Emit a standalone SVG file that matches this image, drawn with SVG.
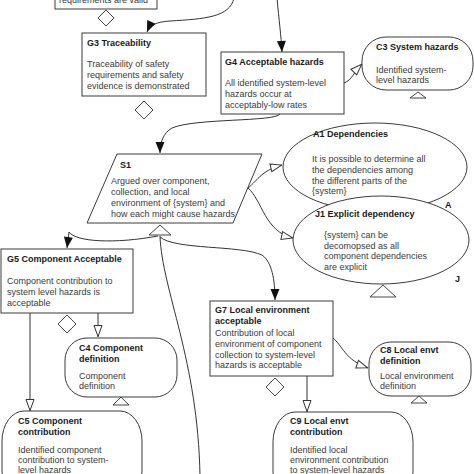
<svg xmlns="http://www.w3.org/2000/svg" width="474" height="474" viewBox="0 0 474 474">
<defs>
<style>
.box{fill:#fff;stroke:#3a3a3a;stroke-width:1}
.t{font-family:"Liberation Sans",Arial,sans-serif;font-size:9px;fill:#3a3a3a}
.b{font-weight:bold;fill:#1a1a1a}
.c{fill:none;stroke:#333;stroke-width:1}
.dia{fill:#fff;stroke:#444;stroke-width:1}
</style>
<marker id="sa" markerUnits="userSpaceOnUse" markerWidth="12" markerHeight="10" viewBox="0 -5 11 10" refX="11" refY="0" orient="auto">
<path d="M0,-4.5 L11,0 L0,4.5 z" fill="#111"/>
</marker>
<marker id="ha" markerUnits="userSpaceOnUse" markerWidth="13" markerHeight="10" viewBox="0 -5 12 10" refX="12" refY="0" orient="auto">
<path d="M0.5,-4 L11.5,0 L0.5,4 z" fill="#fff" stroke="#333" stroke-width="1"/>
</marker>
</defs>
<rect width="474" height="474" fill="#fff"/>

<g id="G2">
<rect class="box" x="55" y="-40" width="102" height="49"/>
<text class="t" x="59" y="3">requirements are valid</text>
<path class="dia" d="M106,10 L114,18 L106,26 L98,18 z"/>
</g>

<g id="G3">
<rect class="box" x="82" y="33" width="124" height="63"/>
<text class="t b" x="87" y="46">G3 Traceability</text>
<text class="t" x="87" y="66.5">Traceability of safety</text>
<text class="t" x="87" y="77.5">requirements and safety</text>
<text class="t" x="87" y="88.5">evidence is demonstrated</text>
<path class="dia" d="M144,101 L153,110 L144,119 L135,110 z"/>
</g>

<g id="G4">
<rect class="box" x="221" y="52" width="123" height="62"/>
<text class="t b" x="225" y="65">G4 Acceptable hazards</text>
<text class="t" x="225" y="86">All identified system-level</text>
<text class="t" x="225" y="97">hazards occur at</text>
<text class="t" x="225" y="108">acceptably-low rates</text>
</g>

<g id="C3">
<rect class="box" x="362" y="37" width="111" height="53" rx="24" ry="24"/>
<text class="t b" x="376" y="50">C3 System hazards</text>
<text class="t" x="376" y="73">Identified system-</text>
<text class="t" x="376" y="83">level hazards</text>
<path class="dia" d="M418,92 L426,98 L410,98 z"/>
</g>

<g id="S1">
<path class="box" d="M117,154 L262,154 L233,223 L87,223 z"/>
<text class="t b" x="120" y="168">S1</text>
<text class="t" x="111" y="184">Argued over component,</text>
<text class="t" x="111" y="195">collection, and local</text>
<text class="t" x="111" y="206">environment of {system} and</text>
<text class="t" x="111" y="217">how each might cause hazards</text>
<path class="dia" d="M160,225 L171,235 L149,235 z"/>
</g>

<g id="A1">
<ellipse class="box" cx="375" cy="167" rx="92" ry="44"/>
<text class="t b" x="313" y="137">A1 Dependencies</text>
<text class="t" x="312" y="162">It is possible to determine all</text>
<text class="t" x="312" y="173">the dependencies among</text>
<text class="t" x="312" y="183.5">the different parts of the</text>
<text class="t" x="312" y="194">{system}</text>
<text class="t b" x="445" y="208">A</text>
</g>

<g id="J1">
<ellipse class="box" cx="381" cy="240" rx="88" ry="44"/>
<text class="t b" x="315" y="217">J1 Explicit dependency</text>
<text class="t" x="324" y="238">{system} can be</text>
<text class="t" x="324" y="248.5">decomopsed as all</text>
<text class="t" x="324" y="259">component dependencies</text>
<text class="t" x="324" y="269.5">are explicit</text>
<text class="t b" x="455" y="282">J</text>
<path class="dia" d="M383,285 L396,297 L370,297 z"/>
</g>

<g id="G5">
<rect class="box" x="1" y="249" width="132" height="64"/>
<text class="t b" x="7" y="262">G5 Component Acceptable</text>
<text class="t" x="7" y="284">Component contribution to</text>
<text class="t" x="7" y="295">system level hazards is</text>
<text class="t" x="7" y="306">acceptable</text>
<path class="dia" d="M67,315 L76,324 L67,333 L58,324 z"/>
</g>

<g id="C4">
<rect class="box" x="65" y="338" width="112" height="59" rx="22" ry="22"/>
<text class="t b" x="79" y="351">C4 Component</text>
<text class="t b" x="79" y="362">definition</text>
<text class="t" x="79" y="379">Component</text>
<text class="t" x="79" y="389">definition</text>
<path class="dia" d="M121,397 L129,405 L113,405 z"/>
</g>

<g id="C5">
<rect class="box" x="2" y="411" width="140" height="90" rx="22" ry="30"/>
<text class="t b" x="18" y="424">C5 Component</text>
<text class="t b" x="18" y="434.5">contribution</text>
<text class="t" x="18" y="453">Identified component</text>
<text class="t" x="18" y="463">contribution to system-</text>
<text class="t" x="18" y="473">level hazards</text>
</g>

<g id="G7">
<rect class="box" x="210" y="301" width="123" height="75"/>
<text class="t b" x="215" y="313">G7 Local environment</text>
<text class="t b" x="215" y="323.5">acceptable</text>
<text class="t" x="215" y="336">Contribution of local</text>
<text class="t" x="215" y="347">environment of component</text>
<text class="t" x="215" y="357.5">collection to system-level</text>
<text class="t" x="215" y="368">hazards is acceptable</text>
<path class="dia" d="M275,378 L284,387 L275,396 L266,387 z"/>
</g>

<g id="C8">
<rect class="box" x="369" y="342" width="102" height="54" rx="22" ry="22"/>
<text class="t b" x="380" y="353">C8 Local envt</text>
<text class="t b" x="380" y="363.5">definition</text>
<text class="t" x="380" y="378.5">Local environment</text>
<text class="t" x="380" y="389">definition</text>
<path class="dia" d="M419,396 L427,403 L411,403 z"/>
</g>

<g id="C9">
<rect class="box" x="273" y="412" width="140" height="90" rx="22" ry="30"/>
<text class="t b" x="290" y="424">C9 Local envt</text>
<text class="t b" x="290" y="434.5">contribution</text>
<text class="t" x="290" y="453">Identified local</text>
<text class="t" x="290" y="463">environment contribution</text>
<text class="t" x="290" y="473">to system-level hazards</text>
</g>

<g id="connectors">
<path class="c" d="M234,-2 C230,17 205,19 170,21 C156,22 150,25 147,32" marker-end="url(#sa)"/>
<path class="c" d="M277,-2 C279,20 281,35 282,52" marker-end="url(#sa)"/>
<path class="c" d="M344,83 C352,80 354,72 362,64" marker-end="url(#ha)"/>
<path class="c" d="M280,114 C275,122 195,118 172,128 C163,133 160,143 160,153" marker-end="url(#sa)"/>
<path class="c" d="M248,188 C258,180 262,170 282,165" marker-end="url(#ha)"/>
<path class="c" d="M248,188 C262,200 265,232 293,238" marker-end="url(#ha)"/>
<path class="c" d="M158,236 C115,244 76,242 69,232 L67,248" marker-end="url(#sa)"/>
<path class="c" d="M160,237 C175,250 240,245 262,255 C272,262 275,280 275,300" marker-end="url(#sa)"/>
<path class="c" d="M160,236 C162,290 198,360 200,476"/>
<path class="c" d="M98,313 L98,337" marker-end="url(#ha)"/>
<path class="c" d="M30,313 L30,411" marker-end="url(#ha)"/>
<path class="c" d="M333,338 C342,345 345,360 368,368" marker-end="url(#ha)"/>
<path class="c" d="M307,376 L307,412" marker-end="url(#ha)"/>
</g>
</svg>
